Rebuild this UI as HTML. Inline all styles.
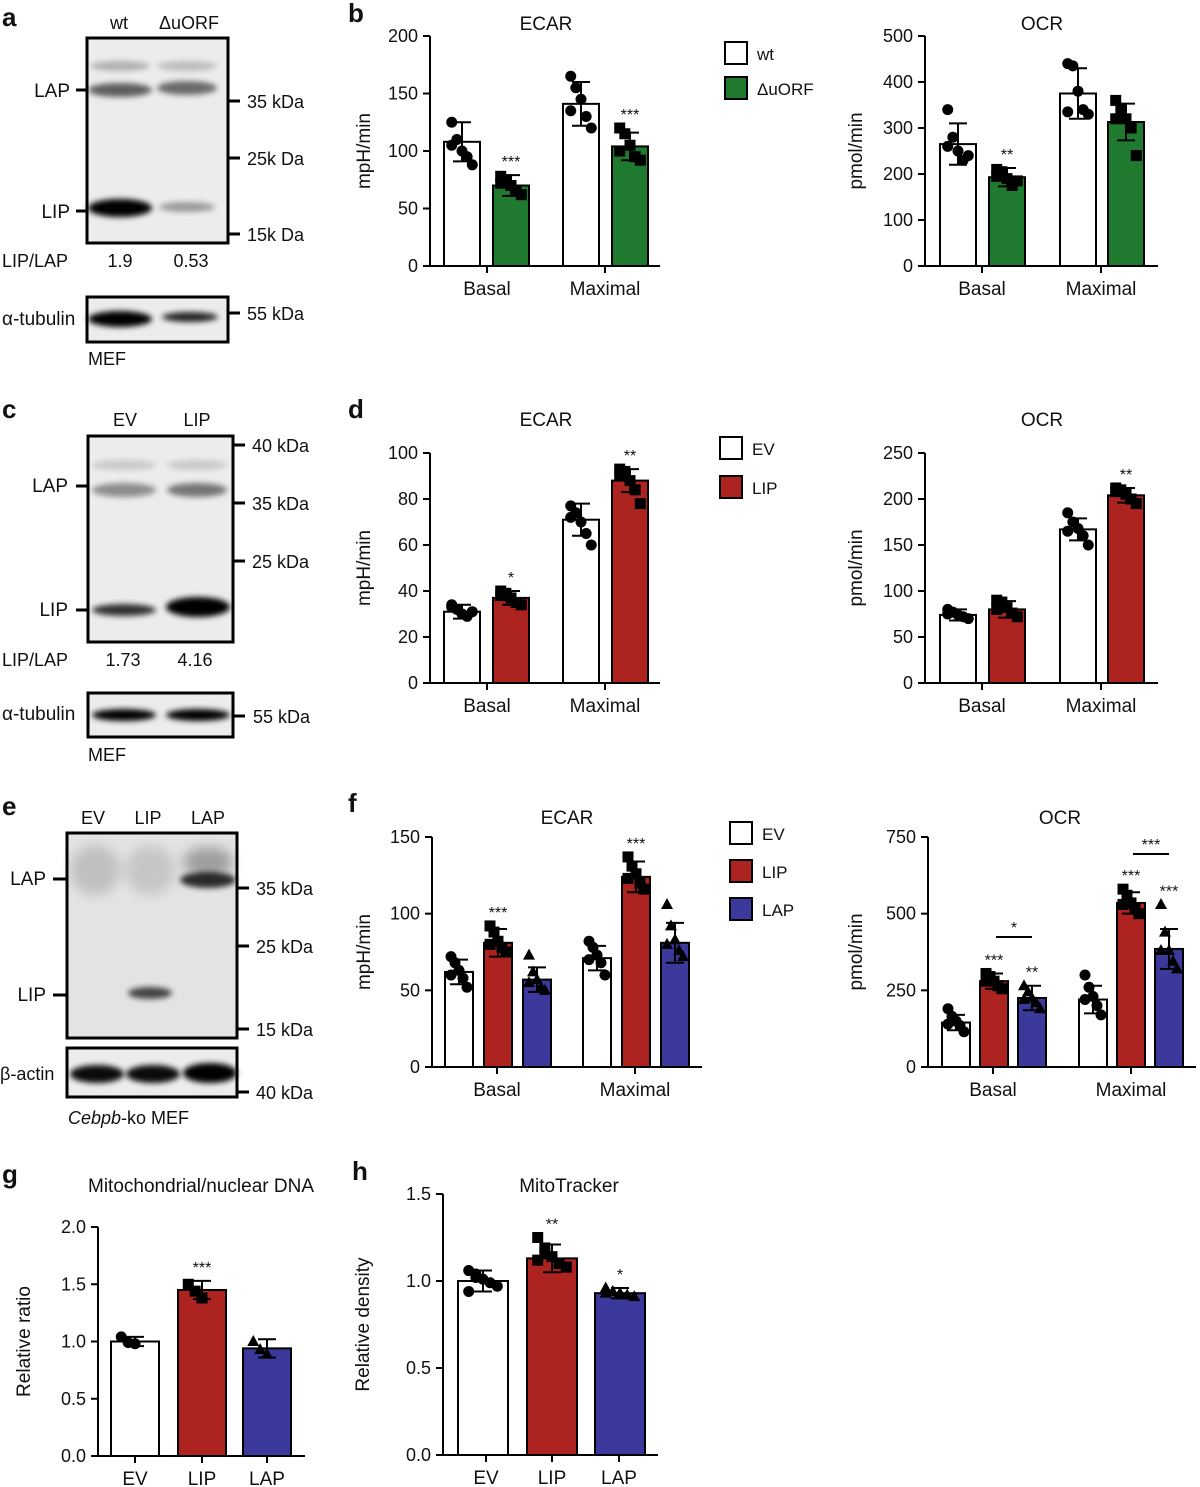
<!DOCTYPE html>
<html><head><meta charset="utf-8">
<style>
html,body{margin:0;padding:0;background:#fff;}
svg{display:block;font-family:"Liberation Sans",sans-serif;}
text{fill:#111;}
</style></head>
<body>
<svg id="fig" width="1200" height="1487" viewBox="0 0 1200 1487" xmlns="http://www.w3.org/2000/svg">
<defs>
<filter id="blur3" x="-50%" y="-50%" width="200%" height="200%"><feGaussianBlur stdDeviation="3"/></filter>
<filter id="blur6" x="-50%" y="-50%" width="200%" height="200%"><feGaussianBlur stdDeviation="6"/></filter>
</defs>
<g id="root"></g>
</svg>
<script>
// ---------- DATA ----------
const groupLabels2 = ["Basal","Maximal"];
const groupLabels3 = ["EV","LIP","LAP"];

const bEcarValues = [108,70,141,104];
const bEcarErrors = [17,9,19,12];
const bEcarPoints = [[125,110,100,95,88,105],[78,75,70,65,62,72],[165,155,145,130,120,135],[120,115,105,95,92,100]];
const bEcarStars = ["","***","","***"];

const bOcrValues = [265,193,375,313];
const bOcrErrors = [45,20,55,40];
const bOcrPoints = [[340,280,250,230,240,260],[210,205,190,175,185,195],[440,435,380,340,330,335],[360,340,320,300,240,320]];
const bOcrStars = ["","**","",""];

const dEcarValues = [31,37,71,88];
const dEcarErrors = [3,3,7,5];
const dEcarPoints = [[33,32,30,29,31,34],[40,39,37,35,34,38],[77,74,70,65,60,72],[93,92,88,84,78,90]];
const dEcarStars = ["","*","","**"];

const dOcrValues = [74,80,167,204];
const dOcrErrors = [6,9,12,8];
const dOcrPoints = [[80,77,74,72,70,75],[90,88,82,76,72,80],[185,175,168,160,150,165],[212,210,205,200,195,208]];
const dOcrStars = ["","","","**"];

const fEcarValues = [62,81,57,71,124,81];
const fEcarErrors = [8,9,8,8,10,13];
const fEcarPoints = [[72,68,63,58,52,60],[92,88,82,78,75,80],[73,62,57,52,50,55],[82,78,73,68,60,70],[137,131,126,120,116,123],[106,92,83,76,72,80]];
const fEcarStars = ["","***","","","***",""];

const fOcrValues = [145,280,225,220,535,385];
const fOcrErrors = [25,25,40,45,35,65];
const fOcrPoints = [[190,165,150,135,115,140],[305,295,280,265,255,280],[265,245,225,210,190,220],[300,260,230,200,170,220],[580,560,535,515,500,530],[530,440,380,345,320,380]];
const fOcrStars = ["","***","**","","***","***"];

const gValues = [1.0,1.45,0.94];
const gErrors = [0.04,0.08,0.08];
const gPoints = [[1.04,0.99,0.98],[1.50,1.44,1.38],[1.00,0.93,0.89]];
const gStars = ["","***",""];

const hValues = [1.0,1.13,0.93];
const hErrors = [0.06,0.08,0.03];
const hPoints = [[1.06,1.04,1.01,0.99,0.97,0.94,1.02],[1.25,1.19,1.14,1.10,1.08,1.12,1.16],[0.96,0.94,0.93,0.92,0.91,0.93]];
const hStars = ["","**","*"];

// ---------- HELPERS ----------
const NS="http://www.w3.org/2000/svg";
const root=document.getElementById('root');
function el(tag,attrs,parent,txt){const e=document.createElementNS(NS,tag);for(const k in attrs)e.setAttribute(k,attrs[k]);if(txt!==undefined)e.textContent=txt;(parent||root).appendChild(e);return e;}
const WHITE="#ffffff",GREEN="#1f7a30",RED="#ad2320",BLUE="#3b3a9c";

function marker(g,shape,x,y){
  let m;
  if(shape==="c") m=el('circle',{cx:x,cy:y,r:5.5,fill:'#000'},g);
  else if(shape==="s") m=el('rect',{x:x-5.5,y:y-5.5,width:11,height:11,fill:'#000'},g);
  else m=el('polygon',{points:`${x},${y-6.5} ${x+6},${y+4.5} ${x-6},${y+4.5}`,fill:'#000'},g);
  
  
}

function chart(c){
  const g=el('g',{});
  
  
  const ys=v=>c.y0-(v/c.ymax)*(c.y0-c.ytop);
  // axes
  el('line',{x1:c.ax,y1:c.ytop,x2:c.ax,y2:c.y0+1,stroke:'#000','stroke-width':2},g);
  el('line',{x1:c.ax-1,y1:c.y0,x2:c.axEnd,y2:c.y0,stroke:'#000','stroke-width':2},g);
  c.ticks.forEach(t=>{
    const y=ys(t);
    el('line',{x1:c.ax-7,y1:y,x2:c.ax,y2:y,stroke:'#000','stroke-width':2},g);
    const tl=el('text',{x:c.ax-12,y:y+6,'text-anchor':'end','font-size':18},g,c.tickFmt?c.tickFmt(t):String(t));
    
    
  });
  // x ticks under groups
  c.xTicks.forEach(x=>el('line',{x1:x,y1:c.y0,x2:x,y2:c.y0+7,stroke:'#000','stroke-width':2},g));
  c.xLabels.forEach((l,i)=>{
    const t=el('text',{x:c.xLabelPos[i],y:c.y0+29,'text-anchor':'middle','font-size':19},g,l);
    
    
  });
  // bars
  c.values.forEach((v,i)=>{
    const b=c.bars[i];const top=ys(v);
    const r=el('rect',{x:b[0],y:top,width:b[1],height:c.y0-top,fill:b[2],stroke:'#000','stroke-width':2},g);
    
    
    const cx=b[0]+b[1]/2;
    const eTop=ys(v+c.errors[i]), eBot=ys(v-c.errors[i]);
    el('line',{x1:cx,y1:eTop,x2:cx,y2:eBot,stroke:'#000','stroke-width':2},g);
    el('line',{x1:cx-9,y1:eTop,x2:cx+9,y2:eTop,stroke:'#000','stroke-width':2},g);
    el('line',{x1:cx-9,y1:eBot,x2:cx+9,y2:eBot,stroke:'#000','stroke-width':2},g);
    const pts=c.points[i];
    pts.forEach((p,j)=>{
      const off=((j%5)-2)*(b[1]/7);
      marker(g,b[3],cx+off,ys(p));
    });
    if(c.stars[i]){
      const st=el('text',{x:cx,y:Math.min(eTop,ys(Math.max(...pts)))-8,'text-anchor':'middle','font-size':16},g,c.stars[i]);
      
      
    }
  });
  // title
  const tt=el('text',{x:c.titleX,y:c.titleY,'text-anchor':'middle','font-size':19},g,c.title);
  
  
  const yt=el('text',{x:c.yTitleX,y:(c.y0+c.ytop)/2,'text-anchor':'middle','font-size':19,transform:`rotate(-90 ${c.yTitleX} ${(c.y0+c.ytop)/2})`},g,c.yTitle);
  
  
  return {g,ys};
}

function legend(x,y,step,items){
  items.forEach((it,i)=>{
    const r=el('rect',{x:x,y:y+i*step,width:22,height:22,fill:it[1],stroke:'#000','stroke-width':2});
    
    
    const t=el('text',{x:x+32,y:y+i*step+18,'font-size':17},undefined,it[0]);
    
    
  });
}

function label(x,y,txt,size,attrs){
  const t=el('text',Object.assign({x:x,y:y,'font-size':size||19},attrs||{}),undefined,txt);
  
  
  return t;
}

function blot(name,x,y,w,h,bands,bg){
  const g=el('g',{});
  
  
  el('rect',{x:x,y:y,width:w,height:h,fill:bg||'#ececec'},g);
  bands.forEach(b=>el('ellipse',{cx:b[0],cy:b[1],rx:b[2],ry:b[3],fill:'#000',opacity:b[4],filter:b[5]||'url(#blur3)'},g));
  el('rect',{x:x,y:y,width:w,height:h,fill:'none',stroke:'#000','stroke-width':3},g);
}
function tickMark(x1,x2,y){el('line',{x1:x1,y1:y,x2:x2,y2:y,stroke:'#000','stroke-width':3});}

// ---------- PANEL LETTERS ----------
[['a',2,26],['b',348,22],['c',2,418],['d',348,418],['e',2,815],['f',348,812],['g',2,1183],['h',352,1180]].forEach(p=>{
  const t=label(p[1],p[2],p[0],26,{'font-weight':'bold'});
  
});

// ---------- PANEL a ----------
label(119,29,'wt',18,{'text-anchor':'middle'});
label(189,29,'ΔuORF',18,{'text-anchor':'middle'});
blot('western-blot-a',87,38,141,205,[[120,66,30,5,0.25],[187,66,30,5,0.2],[120,90,32,7,0.6],[187,88,30,7,0.55],[120,208,32,9,1],[187,207,28,5,0.35]]);
label(70,97,'LAP',19,{'text-anchor':'end'});tickMark(76,87,90);
label(70,218,'LIP',19,{'text-anchor':'end'});tickMark(76,87,211);
tickMark(228,240,101);label(247,108,'35 kDa',18);
tickMark(228,240,158);label(247,165,'25k Da',18);
tickMark(228,240,234);label(247,241,'15k Da',18);
label(2,267,'LIP/LAP',18);label(120,267,'1.9',18,{'text-anchor':'middle'});label(191,267,'0.53',18,{'text-anchor':'middle'});
blot('tubulin-blot-a',87,297,141,45,[[120,319,32,8,1],[190,317,28,5,0.85]]);
label(2,325,'α-tubulin',19);tickMark(228,240,313);label(247,320,'55 kDa',18);
label(88,365,'MEF',18);

// ---------- PANEL c ----------
label(125,426,'EV',18,{'text-anchor':'middle'});label(197,426,'LIP',18,{'text-anchor':'middle'});
blot('western-blot-c',88,436,145,206,[[124,465,32,5,0.15],[197,465,30,5,0.15],[124,490,32,7,0.4],[197,490,30,7,0.5],[124,610,32,6,0.8],[198,607,32,10,1]]);
label(68,492,'LAP',19,{'text-anchor':'end'});tickMark(76,88,486);
label(68,616,'LIP',19,{'text-anchor':'end'});tickMark(76,88,610);
tickMark(233,245,445);label(252,452,'40 kDa',18);
tickMark(233,245,503);label(252,510,'35 kDa',18);
tickMark(233,245,561);label(252,568,'25 kDa',18);
label(2,666,'LIP/LAP',18);label(123,666,'1.73',18,{'text-anchor':'middle'});label(195,666,'4.16',18,{'text-anchor':'middle'});
blot('tubulin-blot-c',88,693,145,44,[[124,715,32,6,1],[198,715,32,6,1]]);
label(2,720,'α-tubulin',19);tickMark(233,245,716);label(253,723,'55 kDa',18);
label(88,761,'MEF',18);

// ---------- PANEL e ----------
label(93,824,'EV',18,{'text-anchor':'middle'});label(148,824,'LIP',18,{'text-anchor':'middle'});label(208,824,'LAP',18,{'text-anchor':'middle'});
blot('western-blot-e',67,833,170,205,[[95,870,25,25,0.15,'url(#blur6)'],[150,870,25,25,0.12,'url(#blur6)'],[208,862,25,15,0.3,'url(#blur6)'],[208,880,28,8,0.8],[150,993,22,6,0.7]],'#e3e3e3');
label(46,885,'LAP',19,{'text-anchor':'end'});tickMark(53,67,879);
label(46,1001,'LIP',19,{'text-anchor':'end'});tickMark(53,67,995);
tickMark(237,249,888);label(256,895,'35 kDa',18);
tickMark(237,249,946);label(256,953,'25 kDa',18);
tickMark(237,249,1029);label(256,1036,'15 kDa',18);
blot('actin-blot-e',67,1048,170,49,[[97,1074,27,9,0.95],[153,1074,27,9,0.95],[210,1073,27,10,1]]);
label(0,1080,'β-actin',18);tickMark(237,249,1092);label(256,1099,'40 kDa',18);
const ko=label(68,1124,'',18);ko.innerHTML='<tspan font-style="italic">Cebpb</tspan>-ko MEF';

// ---------- CHARTS ----------
chart({name:'chart-b-ecar',ax:430,axEnd:660,y0:266,ytop:36,ymax:200,ticks:[0,50,100,150,200],
  xTicks:[487,605],xLabels:groupLabels2,xLabelPos:[487,605],
  bars:[[444,36,WHITE,'c'],[493,36,GREEN,'s'],[563,36,WHITE,'c'],[612,36,GREEN,'s']],
  values:bEcarValues,errors:bEcarErrors,points:bEcarPoints,stars:bEcarStars,
  title:'ECAR',titleX:546,titleY:30,yTitle:'mpH/min',yTitleX:370});
chart({name:'chart-b-ocr',ax:925,axEnd:1158,y0:266,ytop:36,ymax:500,ticks:[0,100,200,300,400,500],
  xTicks:[982,1101],xLabels:groupLabels2,xLabelPos:[982,1101],
  bars:[[940,36,WHITE,'c'],[989,36,GREEN,'s'],[1060,36,WHITE,'c'],[1108,36,GREEN,'s']],
  values:bOcrValues,errors:bOcrErrors,points:bOcrPoints,stars:bOcrStars,
  title:'OCR',titleX:1042,titleY:30,yTitle:'pmol/min',yTitleX:862});
legend(725,42,35,[['wt',WHITE],['ΔuORF',GREEN]]);

chart({name:'chart-d-ecar',ax:430,axEnd:660,y0:683,ytop:453,ymax:100,ticks:[0,20,40,60,80,100],
  xTicks:[487,605],xLabels:groupLabels2,xLabelPos:[487,605],
  bars:[[444,36,WHITE,'c'],[493,36,RED,'s'],[563,36,WHITE,'c'],[612,36,RED,'s']],
  values:dEcarValues,errors:dEcarErrors,points:dEcarPoints,stars:dEcarStars,
  title:'ECAR',titleX:546,titleY:426,yTitle:'mpH/min',yTitleX:370});
chart({name:'chart-d-ocr',ax:925,axEnd:1158,y0:683,ytop:453,ymax:250,ticks:[0,50,100,150,200,250],
  xTicks:[982,1101],xLabels:groupLabels2,xLabelPos:[982,1101],
  bars:[[940,36,WHITE,'c'],[989,36,RED,'s'],[1060,36,WHITE,'c'],[1108,36,RED,'s']],
  values:dOcrValues,errors:dOcrErrors,points:dOcrPoints,stars:dOcrStars,
  title:'OCR',titleX:1042,titleY:426,yTitle:'pmol/min',yTitleX:862});
legend(720,437,39,[['EV',WHITE],['LIP',RED]]);

chart({name:'chart-f-ecar',ax:432,axEnd:702,y0:1067,ytop:837,ymax:150,ticks:[0,50,100,150],
  xTicks:[497,635],xLabels:groupLabels2,xLabelPos:[497,635],
  bars:[[445,28,WHITE,'c'],[484,28,RED,'s'],[523,28,BLUE,'t'],[583,28,WHITE,'c'],[622,28,RED,'s'],[661,28,BLUE,'t']],
  values:fEcarValues,errors:fEcarErrors,points:fEcarPoints,stars:fEcarStars,
  title:'ECAR',titleX:567,titleY:824,yTitle:'mpH/min',yTitleX:370});
const fo=chart({name:'chart-f-ocr',ax:928,axEnd:1196,y0:1067,ytop:837,ymax:750,ticks:[0,250,500,750],
  xTicks:[993,1131],xLabels:groupLabels2,xLabelPos:[993,1131],
  bars:[[942,28,WHITE,'c'],[980,28,RED,'s'],[1018,28,BLUE,'t'],[1079,28,WHITE,'c'],[1117,28,RED,'s'],[1155,28,BLUE,'t']],
  values:fOcrValues,errors:fOcrErrors,points:fOcrPoints,stars:fOcrStars,
  title:'OCR',titleX:1060,titleY:824,yTitle:'pmol/min',yTitleX:862});
el('line',{x1:996,y1:937,x2:1032,y2:937,stroke:'#000','stroke-width':2});label(1014,933,'*',16,{'text-anchor':'middle'});
el('line',{x1:1133,y1:854,x2:1169,y2:854,stroke:'#000','stroke-width':2});label(1151,850,'***',16,{'text-anchor':'middle'});
legend(730,822,38,[['EV',WHITE],['LIP',RED],['LAP',BLUE]]);

chart({name:'chart-g-mtdna',ax:98,axEnd:305,y0:1456,ytop:1227,ymax:2.0,ticks:[0,0.5,1.0,1.5,2.0],tickFmt:t=>t.toFixed(1),
  xTicks:[135,202,267],xLabels:groupLabels3,xLabelPos:[135,202,267],
  bars:[[111,48,WHITE,'c'],[178,48,RED,'s'],[243,48,BLUE,'t']],
  values:gValues,errors:gErrors,points:gPoints,stars:gStars,
  title:'Mitochondrial/nuclear DNA',titleX:201,titleY:1192,yTitle:'Relative ratio',yTitleX:30});
chart({name:'chart-h-mitotracker',ax:443,axEnd:658,y0:1455,ytop:1194,ymax:1.5,ticks:[0,0.5,1.0,1.5],tickFmt:t=>t.toFixed(1),
  xTicks:[486,552,619],xLabels:groupLabels3,xLabelPos:[486,552,619],
  bars:[[458,50,WHITE,'c'],[527,50,RED,'s'],[595,50,BLUE,'t']],
  values:hValues,errors:hErrors,points:hPoints,stars:hStars,
  title:'MitoTracker',titleX:569,titleY:1192,yTitle:'Relative density',yTitleX:369});
</script>
</body></html>
